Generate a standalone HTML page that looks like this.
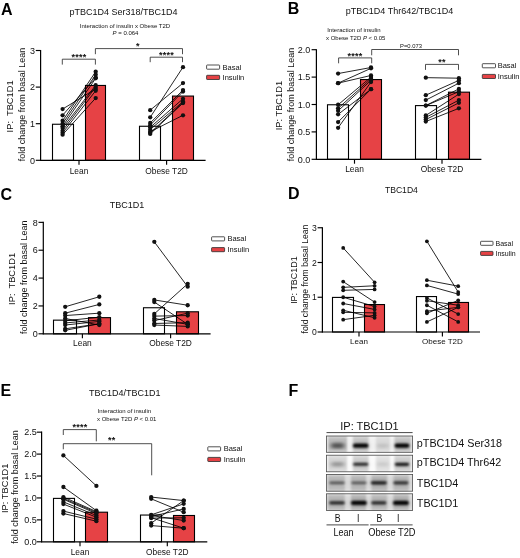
<!DOCTYPE html>
<html lang="en">
<head>
<meta charset="utf-8">
<title>Figure: TBC1D1 immunoprecipitation, TBC1D4 phosphorylation</title>
<style>
html,body{margin:0;padding:0;background:#fff;}
body{width:520px;height:558px;overflow:hidden;}
svg{display:block;font-family:"Liberation Sans",Arial,sans-serif;fill:#111;}
</style>
</head>
<body>
<svg width="520" height="558" viewBox="0 0 520 558">
<defs>
<filter id="bl1" x="-30%" y="-100%" width="160%" height="300%"><feGaussianBlur stdDeviation="1.1 0.85"/></filter>
<filter id="bl2" x="-30%" y="-100%" width="160%" height="300%"><feGaussianBlur stdDeviation="2.0 1.5"/></filter>
<filter id="bl3" x="-30%" y="-30%" width="160%" height="160%"><feGaussianBlur stdDeviation="1.0 0.1"/></filter>
<filter id="bl4" x="-10%" y="-200%" width="120%" height="500%"><feGaussianBlur stdDeviation="0.1 1.2"/></filter>
</defs>
<rect width="520" height="558" fill="#fff"/>
<g class="panel" id="panel-A">
<text x="0.9" y="14.5" font-size="16" font-weight="bold" fill="#000">A</text>
<text x="123.5" y="14.8" font-size="9" text-anchor="middle">pTBC1D4 Ser318/TBC1D4</text>
<rect x="52.5" y="124.25" width="21" height="36.05" fill="#fff" stroke="#000" stroke-width="1.1"/>
<rect x="85.5" y="85.45" width="20" height="74.85" fill="#E64245" stroke="#000" stroke-width="1.1"/>
<rect x="139.5" y="126.26" width="21" height="34.04" fill="#fff" stroke="#000" stroke-width="1.1"/>
<rect x="172.5" y="96.07" width="21" height="64.23" fill="#E64245" stroke="#000" stroke-width="1.1"/>
<line x1="40.6" y1="49.95" x2="40.6" y2="160.85" stroke="#000" stroke-width="1.2"/>
<line x1="40.1" y1="160.3" x2="205.6" y2="160.3" stroke="#000" stroke-width="1.15"/>
<line x1="35.8" y1="160.3" x2="40.6" y2="160.3" stroke="#000" stroke-width="1.15"/>
<text x="35" y="163.5" font-size="9" text-anchor="end">0</text>
<line x1="35.8" y1="123.7" x2="40.6" y2="123.7" stroke="#000" stroke-width="1.15"/>
<text x="35" y="126.9" font-size="9" text-anchor="end">1</text>
<line x1="35.8" y1="87.1" x2="40.6" y2="87.1" stroke="#000" stroke-width="1.15"/>
<text x="35" y="90.3" font-size="9" text-anchor="end">2</text>
<line x1="35.8" y1="50.5" x2="40.6" y2="50.5" stroke="#000" stroke-width="1.15"/>
<text x="35" y="53.7" font-size="9" text-anchor="end">3</text>
<line x1="79" y1="160.3" x2="79" y2="164.7" stroke="#000" stroke-width="1.15"/>
<text x="79" y="173.6" font-size="8.4" text-anchor="middle">Lean</text>
<line x1="166.6" y1="160.3" x2="166.6" y2="164.7" stroke="#000" stroke-width="1.15"/>
<text x="166.6" y="173.6" font-size="8.4" text-anchor="middle">Obese T2D</text>
<text x="13.5" y="106.4" font-size="9.31" text-anchor="middle" transform="rotate(-90 13.5 106.4)" style="white-space:pre">IP:  TBC1D1</text>
<text x="24.9" y="104.5" font-size="9" text-anchor="middle" transform="rotate(-90 24.9 104.5)">fold change from basal Lean</text>
<line x1="62.6" y1="109.06" x2="95.7" y2="88.93" stroke="#000" stroke-width="0.85"/>
<line x1="62.6" y1="115.28" x2="95.7" y2="77.58" stroke="#000" stroke-width="0.85"/>
<line x1="62.6" y1="120.77" x2="95.7" y2="71.73" stroke="#000" stroke-width="0.85"/>
<line x1="62.6" y1="123.7" x2="95.7" y2="74.66" stroke="#000" stroke-width="0.85"/>
<line x1="62.6" y1="126.26" x2="95.7" y2="78.32" stroke="#000" stroke-width="0.85"/>
<line x1="62.6" y1="128.09" x2="95.7" y2="85.27" stroke="#000" stroke-width="0.85"/>
<line x1="62.6" y1="130.65" x2="95.7" y2="87.1" stroke="#000" stroke-width="0.85"/>
<line x1="62.6" y1="132.85" x2="95.7" y2="90.76" stroke="#000" stroke-width="0.85"/>
<line x1="62.6" y1="134.68" x2="95.7" y2="98.08" stroke="#000" stroke-width="0.85"/>
<circle cx="62.6" cy="109.06" r="2.15" fill="#111"/>
<circle cx="95.7" cy="88.93" r="2.15" fill="#111"/>
<circle cx="62.6" cy="115.28" r="2.15" fill="#111"/>
<circle cx="95.7" cy="77.58" r="2.15" fill="#111"/>
<circle cx="62.6" cy="120.77" r="2.15" fill="#111"/>
<circle cx="95.7" cy="71.73" r="2.15" fill="#111"/>
<circle cx="62.6" cy="123.7" r="2.15" fill="#111"/>
<circle cx="95.7" cy="74.66" r="2.15" fill="#111"/>
<circle cx="62.6" cy="126.26" r="2.15" fill="#111"/>
<circle cx="95.7" cy="78.32" r="2.15" fill="#111"/>
<circle cx="62.6" cy="128.09" r="2.15" fill="#111"/>
<circle cx="95.7" cy="85.27" r="2.15" fill="#111"/>
<circle cx="62.6" cy="130.65" r="2.15" fill="#111"/>
<circle cx="95.7" cy="87.1" r="2.15" fill="#111"/>
<circle cx="62.6" cy="132.85" r="2.15" fill="#111"/>
<circle cx="95.7" cy="90.76" r="2.15" fill="#111"/>
<circle cx="62.6" cy="134.68" r="2.15" fill="#111"/>
<circle cx="95.7" cy="98.08" r="2.15" fill="#111"/>
<line x1="150.2" y1="110.16" x2="183" y2="83.07" stroke="#000" stroke-width="0.85"/>
<line x1="150.2" y1="117.3" x2="183" y2="67.15" stroke="#000" stroke-width="0.85"/>
<line x1="150.2" y1="122.97" x2="183" y2="90.03" stroke="#000" stroke-width="0.85"/>
<line x1="150.2" y1="125.16" x2="183" y2="91.49" stroke="#000" stroke-width="0.85"/>
<line x1="150.2" y1="127.36" x2="183" y2="98.81" stroke="#000" stroke-width="0.85"/>
<line x1="150.2" y1="129.56" x2="183" y2="101.56" stroke="#000" stroke-width="0.85"/>
<line x1="150.2" y1="131.75" x2="183" y2="115.28" stroke="#000" stroke-width="0.85"/>
<line x1="150.2" y1="132.85" x2="183" y2="102.47" stroke="#000" stroke-width="0.85"/>
<line x1="150.2" y1="133.95" x2="183" y2="103.02" stroke="#000" stroke-width="0.85"/>
<circle cx="150.2" cy="110.16" r="2.15" fill="#111"/>
<circle cx="183" cy="83.07" r="2.15" fill="#111"/>
<circle cx="150.2" cy="117.3" r="2.15" fill="#111"/>
<circle cx="183" cy="67.15" r="2.15" fill="#111"/>
<circle cx="150.2" cy="122.97" r="2.15" fill="#111"/>
<circle cx="183" cy="90.03" r="2.15" fill="#111"/>
<circle cx="150.2" cy="125.16" r="2.15" fill="#111"/>
<circle cx="183" cy="91.49" r="2.15" fill="#111"/>
<circle cx="150.2" cy="127.36" r="2.15" fill="#111"/>
<circle cx="183" cy="98.81" r="2.15" fill="#111"/>
<circle cx="150.2" cy="129.56" r="2.15" fill="#111"/>
<circle cx="183" cy="101.56" r="2.15" fill="#111"/>
<circle cx="150.2" cy="131.75" r="2.15" fill="#111"/>
<circle cx="183" cy="115.28" r="2.15" fill="#111"/>
<circle cx="150.2" cy="132.85" r="2.15" fill="#111"/>
<circle cx="183" cy="102.47" r="2.15" fill="#111"/>
<circle cx="150.2" cy="133.95" r="2.15" fill="#111"/>
<circle cx="183" cy="103.02" r="2.15" fill="#111"/>
<rect x="206.6" y="65" width="13" height="4.2" fill="#fff" stroke="#333" stroke-width="0.85" rx="0.6"/>
<rect x="206.6" y="75.3" width="13" height="4.2" fill="#E64245" stroke="#333" stroke-width="0.85" rx="0.6"/>
<text x="222.6" y="69.7" font-size="7.5">Basal</text>
<text x="222.6" y="80" font-size="7.5">Insulin</text>
<path d="M62.3 64.6V59.2H95.4V64.6" fill="none" stroke="#222" stroke-width="0.8"/>
<text x="79" y="59.8" font-size="9" text-anchor="middle" font-weight="bold" letter-spacing="0.3">****</text>
<path d="M150.2 62.2V57.2H182.5V62.2" fill="none" stroke="#222" stroke-width="0.8"/>
<text x="166.5" y="57.8" font-size="9" text-anchor="middle" font-weight="bold" letter-spacing="0.3">****</text>
<path d="M95.4 54.2V48.6H182.5V54.2" fill="none" stroke="#222" stroke-width="0.8"/>
<text x="138" y="49.3" font-size="9" text-anchor="middle" font-weight="bold" letter-spacing="0.3">*</text>
<text x="125" y="27.5" font-size="6" text-anchor="middle">Interaction of insulin x Obese T2D</text>
<text x="125.5" y="35" font-size="6" text-anchor="middle"><tspan font-style="italic">P</tspan> = 0.064</text>
</g>
<g class="panel" id="panel-B">
<text x="287.8" y="14" font-size="16" font-weight="bold" fill="#000">B</text>
<text x="399.5" y="14.2" font-size="9" text-anchor="middle">pTBC1D4 Thr642/TBC1D4</text>
<rect x="327.5" y="104.77" width="21" height="54.53" fill="#fff" stroke="#000" stroke-width="1.1"/>
<rect x="360.5" y="79.57" width="21" height="79.73" fill="#E64245" stroke="#000" stroke-width="1.1"/>
<rect x="415.5" y="105.6" width="21" height="53.7" fill="#fff" stroke="#000" stroke-width="1.1"/>
<rect x="448.5" y="92.17" width="21" height="67.13" fill="#E64245" stroke="#000" stroke-width="1.1"/>
<line x1="316.4" y1="49.15" x2="316.4" y2="159.85" stroke="#000" stroke-width="1.2"/>
<line x1="315.9" y1="159.3" x2="481.4" y2="159.3" stroke="#000" stroke-width="1.15"/>
<line x1="311.6" y1="159.3" x2="316.4" y2="159.3" stroke="#000" stroke-width="1.15"/>
<text x="310.3" y="162.5" font-size="9" text-anchor="end">0.0</text>
<line x1="311.6" y1="131.9" x2="316.4" y2="131.9" stroke="#000" stroke-width="1.15"/>
<text x="310.3" y="135.1" font-size="9" text-anchor="end">0.5</text>
<line x1="311.6" y1="104.5" x2="316.4" y2="104.5" stroke="#000" stroke-width="1.15"/>
<text x="310.3" y="107.7" font-size="9" text-anchor="end">1.0</text>
<line x1="311.6" y1="77.1" x2="316.4" y2="77.1" stroke="#000" stroke-width="1.15"/>
<text x="310.3" y="80.3" font-size="9" text-anchor="end">1.5</text>
<line x1="311.6" y1="49.7" x2="316.4" y2="49.7" stroke="#000" stroke-width="1.15"/>
<text x="310.3" y="52.9" font-size="9" text-anchor="end">2.0</text>
<line x1="354.5" y1="159.3" x2="354.5" y2="163.7" stroke="#000" stroke-width="1.15"/>
<text x="354.5" y="171.8" font-size="8.4" text-anchor="middle">Lean</text>
<line x1="442" y1="159.3" x2="442" y2="163.7" stroke="#000" stroke-width="1.15"/>
<text x="442" y="171.8" font-size="8.4" text-anchor="middle">Obese T2D</text>
<text x="282.4" y="105.6" font-size="9.31" text-anchor="middle" transform="rotate(-90 282.4 105.6)" style="white-space:pre">IP: TBC1D1</text>
<text x="293.7" y="104.5" font-size="9" text-anchor="middle" transform="rotate(-90 293.7 104.5)">fold change from basal Lean</text>
<line x1="338.1" y1="73.54" x2="371" y2="67.51" stroke="#000" stroke-width="0.85"/>
<line x1="338.1" y1="83.13" x2="371" y2="68.33" stroke="#000" stroke-width="0.85"/>
<line x1="338.1" y1="83.13" x2="371" y2="75.46" stroke="#000" stroke-width="0.85"/>
<line x1="338.1" y1="104.77" x2="371" y2="77.1" stroke="#000" stroke-width="0.85"/>
<line x1="338.1" y1="108.34" x2="371" y2="78.74" stroke="#000" stroke-width="0.85"/>
<line x1="338.1" y1="110.8" x2="371" y2="80.39" stroke="#000" stroke-width="0.85"/>
<line x1="338.1" y1="114.36" x2="371" y2="89.16" stroke="#000" stroke-width="0.85"/>
<line x1="338.1" y1="122.04" x2="371" y2="89.16" stroke="#000" stroke-width="0.85"/>
<line x1="338.1" y1="127.79" x2="371" y2="82.03" stroke="#000" stroke-width="0.85"/>
<circle cx="338.1" cy="73.54" r="2.15" fill="#111"/>
<circle cx="371" cy="67.51" r="2.15" fill="#111"/>
<circle cx="338.1" cy="83.13" r="2.15" fill="#111"/>
<circle cx="371" cy="68.33" r="2.15" fill="#111"/>
<circle cx="338.1" cy="83.13" r="2.15" fill="#111"/>
<circle cx="371" cy="75.46" r="2.15" fill="#111"/>
<circle cx="338.1" cy="104.77" r="2.15" fill="#111"/>
<circle cx="371" cy="77.1" r="2.15" fill="#111"/>
<circle cx="338.1" cy="108.34" r="2.15" fill="#111"/>
<circle cx="371" cy="78.74" r="2.15" fill="#111"/>
<circle cx="338.1" cy="110.8" r="2.15" fill="#111"/>
<circle cx="371" cy="80.39" r="2.15" fill="#111"/>
<circle cx="338.1" cy="114.36" r="2.15" fill="#111"/>
<circle cx="371" cy="89.16" r="2.15" fill="#111"/>
<circle cx="338.1" cy="122.04" r="2.15" fill="#111"/>
<circle cx="371" cy="89.16" r="2.15" fill="#111"/>
<circle cx="338.1" cy="127.79" r="2.15" fill="#111"/>
<circle cx="371" cy="82.03" r="2.15" fill="#111"/>
<line x1="425.8" y1="77.65" x2="458.9" y2="78.2" stroke="#000" stroke-width="0.85"/>
<line x1="425.8" y1="95.18" x2="458.9" y2="80.39" stroke="#000" stroke-width="0.85"/>
<line x1="425.8" y1="100.12" x2="458.9" y2="83.13" stroke="#000" stroke-width="0.85"/>
<line x1="425.8" y1="105.6" x2="458.9" y2="88.88" stroke="#000" stroke-width="0.85"/>
<line x1="425.8" y1="105.6" x2="458.9" y2="91.62" stroke="#000" stroke-width="0.85"/>
<line x1="425.8" y1="115.46" x2="458.9" y2="94.09" stroke="#000" stroke-width="0.85"/>
<line x1="425.8" y1="117.38" x2="458.9" y2="100.12" stroke="#000" stroke-width="0.85"/>
<line x1="425.8" y1="119.57" x2="458.9" y2="102.86" stroke="#000" stroke-width="0.85"/>
<line x1="425.8" y1="121.49" x2="458.9" y2="108.34" stroke="#000" stroke-width="0.85"/>
<circle cx="425.8" cy="77.65" r="2.15" fill="#111"/>
<circle cx="458.9" cy="78.2" r="2.15" fill="#111"/>
<circle cx="425.8" cy="95.18" r="2.15" fill="#111"/>
<circle cx="458.9" cy="80.39" r="2.15" fill="#111"/>
<circle cx="425.8" cy="100.12" r="2.15" fill="#111"/>
<circle cx="458.9" cy="83.13" r="2.15" fill="#111"/>
<circle cx="425.8" cy="105.6" r="2.15" fill="#111"/>
<circle cx="458.9" cy="88.88" r="2.15" fill="#111"/>
<circle cx="425.8" cy="105.6" r="2.15" fill="#111"/>
<circle cx="458.9" cy="91.62" r="2.15" fill="#111"/>
<circle cx="425.8" cy="115.46" r="2.15" fill="#111"/>
<circle cx="458.9" cy="94.09" r="2.15" fill="#111"/>
<circle cx="425.8" cy="117.38" r="2.15" fill="#111"/>
<circle cx="458.9" cy="100.12" r="2.15" fill="#111"/>
<circle cx="425.8" cy="119.57" r="2.15" fill="#111"/>
<circle cx="458.9" cy="102.86" r="2.15" fill="#111"/>
<circle cx="425.8" cy="121.49" r="2.15" fill="#111"/>
<circle cx="458.9" cy="108.34" r="2.15" fill="#111"/>
<rect x="482.3" y="63.7" width="13.2" height="4.1" fill="#fff" stroke="#333" stroke-width="0.85" rx="0.6"/>
<rect x="482.3" y="74.4" width="13.2" height="4.1" fill="#E64245" stroke="#333" stroke-width="0.85" rx="0.6"/>
<text x="497.7" y="68.3" font-size="7.5">Basal</text>
<text x="497.7" y="79" font-size="7.5">Insulin</text>
<path d="M338.6 63.3V57.9H371.7V63.3" fill="none" stroke="#222" stroke-width="0.8"/>
<text x="355" y="58.5" font-size="9" text-anchor="middle" font-weight="bold" letter-spacing="0.3">****</text>
<path d="M425.5 69.9V64.4H458.5V69.9" fill="none" stroke="#222" stroke-width="0.8"/>
<text x="442" y="65.1" font-size="9" text-anchor="middle" font-weight="bold" letter-spacing="0.3">**</text>
<path d="M371.7 55.3V49.5H458.5V55.3" fill="none" stroke="#222" stroke-width="0.8"/>
<text x="411" y="47.9" font-size="5.8" text-anchor="middle">P=0.073</text>
<text x="327.2" y="31.8" font-size="6">Interaction of insulin</text>
<text x="326" y="39.8" font-size="6">x Obese T2D <tspan font-style="italic">P</tspan> &lt; 0.05</text>
</g>
<g class="panel" id="panel-C">
<text x="0.4" y="199.9" font-size="16" font-weight="bold" fill="#000">C</text>
<text x="127" y="207.5" font-size="9" text-anchor="middle">TBC1D1</text>
<rect x="53.5" y="320.15" width="23" height="13.65" fill="#fff" stroke="#000" stroke-width="1.1"/>
<rect x="88.5" y="317.64" width="22" height="16.16" fill="#E64245" stroke="#000" stroke-width="1.1"/>
<rect x="143.5" y="307.75" width="21" height="26.05" fill="#fff" stroke="#000" stroke-width="1.1"/>
<rect x="176.5" y="311.79" width="22" height="22.01" fill="#E64245" stroke="#000" stroke-width="1.1"/>
<line x1="43.3" y1="221.81" x2="43.3" y2="334.35" stroke="#000" stroke-width="1.2"/>
<line x1="42.8" y1="333.8" x2="210.6" y2="333.8" stroke="#000" stroke-width="1.15"/>
<line x1="38.5" y1="333.8" x2="43.3" y2="333.8" stroke="#000" stroke-width="1.15"/>
<text x="37.7" y="337" font-size="9" text-anchor="end">0</text>
<line x1="38.5" y1="305.94" x2="43.3" y2="305.94" stroke="#000" stroke-width="1.15"/>
<text x="37.7" y="309.14" font-size="9" text-anchor="end">2</text>
<line x1="38.5" y1="278.08" x2="43.3" y2="278.08" stroke="#000" stroke-width="1.15"/>
<text x="37.7" y="281.28" font-size="9" text-anchor="end">4</text>
<line x1="38.5" y1="250.22" x2="43.3" y2="250.22" stroke="#000" stroke-width="1.15"/>
<text x="37.7" y="253.42" font-size="9" text-anchor="end">6</text>
<line x1="38.5" y1="222.36" x2="43.3" y2="222.36" stroke="#000" stroke-width="1.15"/>
<text x="37.7" y="225.56" font-size="9" text-anchor="end">8</text>
<line x1="82.4" y1="333.8" x2="82.4" y2="338.2" stroke="#000" stroke-width="1.15"/>
<text x="82.4" y="346.3" font-size="8.4" text-anchor="middle">Lean</text>
<line x1="170.6" y1="333.8" x2="170.6" y2="338.2" stroke="#000" stroke-width="1.15"/>
<text x="170.6" y="346.3" font-size="8.4" text-anchor="middle">Obese T2D</text>
<text x="15.5" y="278.9" font-size="9.31" text-anchor="middle" transform="rotate(-90 15.5 278.9)" style="white-space:pre">IP:  TBC1D1</text>
<text x="27.5" y="277.2" font-size="9" text-anchor="middle" transform="rotate(-90 27.5 277.2)">fold change from basal Lean</text>
<line x1="65.2" y1="306.78" x2="99.3" y2="296.75" stroke="#000" stroke-width="0.85"/>
<line x1="65.2" y1="313.18" x2="99.3" y2="304.41" stroke="#000" stroke-width="0.85"/>
<line x1="65.2" y1="315.55" x2="99.3" y2="313.18" stroke="#000" stroke-width="0.85"/>
<line x1="65.2" y1="318.48" x2="99.3" y2="325.02" stroke="#000" stroke-width="0.85"/>
<line x1="65.2" y1="320.85" x2="99.3" y2="317.08" stroke="#000" stroke-width="0.85"/>
<line x1="65.2" y1="322.93" x2="99.3" y2="320.01" stroke="#000" stroke-width="0.85"/>
<line x1="65.2" y1="325.02" x2="99.3" y2="321.4" stroke="#000" stroke-width="0.85"/>
<line x1="65.2" y1="328.79" x2="99.3" y2="323.77" stroke="#000" stroke-width="0.85"/>
<line x1="65.2" y1="330.32" x2="99.3" y2="323.77" stroke="#000" stroke-width="0.85"/>
<circle cx="65.2" cy="306.78" r="2.15" fill="#111"/>
<circle cx="99.3" cy="296.75" r="2.15" fill="#111"/>
<circle cx="65.2" cy="313.18" r="2.15" fill="#111"/>
<circle cx="99.3" cy="304.41" r="2.15" fill="#111"/>
<circle cx="65.2" cy="315.55" r="2.15" fill="#111"/>
<circle cx="99.3" cy="313.18" r="2.15" fill="#111"/>
<circle cx="65.2" cy="318.48" r="2.15" fill="#111"/>
<circle cx="99.3" cy="325.02" r="2.15" fill="#111"/>
<circle cx="65.2" cy="320.85" r="2.15" fill="#111"/>
<circle cx="99.3" cy="317.08" r="2.15" fill="#111"/>
<circle cx="65.2" cy="322.93" r="2.15" fill="#111"/>
<circle cx="99.3" cy="320.01" r="2.15" fill="#111"/>
<circle cx="65.2" cy="325.02" r="2.15" fill="#111"/>
<circle cx="99.3" cy="321.4" r="2.15" fill="#111"/>
<circle cx="65.2" cy="328.79" r="2.15" fill="#111"/>
<circle cx="99.3" cy="323.77" r="2.15" fill="#111"/>
<circle cx="65.2" cy="330.32" r="2.15" fill="#111"/>
<circle cx="99.3" cy="323.77" r="2.15" fill="#111"/>
<line x1="154.3" y1="241.86" x2="187.7" y2="286.72" stroke="#000" stroke-width="0.85"/>
<line x1="154.3" y1="299.95" x2="187.7" y2="305.24" stroke="#000" stroke-width="0.85"/>
<line x1="154.3" y1="302.04" x2="187.7" y2="324.33" stroke="#000" stroke-width="0.85"/>
<line x1="154.3" y1="313.88" x2="187.7" y2="283.79" stroke="#000" stroke-width="0.85"/>
<line x1="154.3" y1="316.11" x2="187.7" y2="315.55" stroke="#000" stroke-width="0.85"/>
<line x1="154.3" y1="320.57" x2="187.7" y2="313.18" stroke="#000" stroke-width="0.85"/>
<line x1="154.3" y1="323.49" x2="187.7" y2="322.66" stroke="#000" stroke-width="0.85"/>
<line x1="154.3" y1="325.02" x2="187.7" y2="326.42" stroke="#000" stroke-width="0.85"/>
<line x1="154.3" y1="318.48" x2="187.7" y2="324.33" stroke="#000" stroke-width="0.85"/>
<circle cx="154.3" cy="241.86" r="2.15" fill="#111"/>
<circle cx="187.7" cy="286.72" r="2.15" fill="#111"/>
<circle cx="154.3" cy="299.95" r="2.15" fill="#111"/>
<circle cx="187.7" cy="305.24" r="2.15" fill="#111"/>
<circle cx="154.3" cy="302.04" r="2.15" fill="#111"/>
<circle cx="187.7" cy="324.33" r="2.15" fill="#111"/>
<circle cx="154.3" cy="313.88" r="2.15" fill="#111"/>
<circle cx="187.7" cy="283.79" r="2.15" fill="#111"/>
<circle cx="154.3" cy="316.11" r="2.15" fill="#111"/>
<circle cx="187.7" cy="315.55" r="2.15" fill="#111"/>
<circle cx="154.3" cy="320.57" r="2.15" fill="#111"/>
<circle cx="187.7" cy="313.18" r="2.15" fill="#111"/>
<circle cx="154.3" cy="323.49" r="2.15" fill="#111"/>
<circle cx="187.7" cy="322.66" r="2.15" fill="#111"/>
<circle cx="154.3" cy="325.02" r="2.15" fill="#111"/>
<circle cx="187.7" cy="326.42" r="2.15" fill="#111"/>
<circle cx="154.3" cy="318.48" r="2.15" fill="#111"/>
<circle cx="187.7" cy="324.33" r="2.15" fill="#111"/>
<rect x="211.6" y="236.8" width="13" height="4.1" fill="#fff" stroke="#333" stroke-width="0.85" rx="0.6"/>
<rect x="211.6" y="247.6" width="13" height="4.1" fill="#E64245" stroke="#333" stroke-width="0.85" rx="0.6"/>
<text x="227.4" y="241.4" font-size="7.5">Basal</text>
<text x="227.4" y="252.2" font-size="7.5">Insulin</text>
</g>
<g class="panel" id="panel-D">
<text x="287.9" y="198.8" font-size="16" font-weight="bold" fill="#000">D</text>
<text x="401.4" y="193.2" font-size="8.6" text-anchor="middle">TBC1D4</text>
<rect x="332.5" y="297.42" width="21" height="34.58" fill="#fff" stroke="#000" stroke-width="1.1"/>
<rect x="364.5" y="304.55" width="20" height="27.45" fill="#E64245" stroke="#000" stroke-width="1.1"/>
<rect x="416.5" y="296.56" width="20" height="35.45" fill="#fff" stroke="#000" stroke-width="1.1"/>
<rect x="448.5" y="302.46" width="20" height="29.54" fill="#E64245" stroke="#000" stroke-width="1.1"/>
<line x1="322.4" y1="227.2" x2="322.4" y2="332.55" stroke="#000" stroke-width="1.2"/>
<line x1="321.9" y1="332" x2="480" y2="332" stroke="#000" stroke-width="1.15"/>
<line x1="317.6" y1="332" x2="322.4" y2="332" stroke="#000" stroke-width="1.15"/>
<text x="316.8" y="335.2" font-size="8.6" text-anchor="end">0</text>
<line x1="317.6" y1="297.25" x2="322.4" y2="297.25" stroke="#000" stroke-width="1.15"/>
<text x="316.8" y="300.45" font-size="8.6" text-anchor="end">1</text>
<line x1="317.6" y1="262.5" x2="322.4" y2="262.5" stroke="#000" stroke-width="1.15"/>
<text x="316.8" y="265.7" font-size="8.6" text-anchor="end">2</text>
<line x1="317.6" y1="227.75" x2="322.4" y2="227.75" stroke="#000" stroke-width="1.15"/>
<text x="316.8" y="230.95" font-size="8.6" text-anchor="end">3</text>
<line x1="359" y1="332" x2="359" y2="336.4" stroke="#000" stroke-width="1.15"/>
<text x="359" y="344.1" font-size="8" text-anchor="middle">Lean</text>
<line x1="442.4" y1="332" x2="442.4" y2="336.4" stroke="#000" stroke-width="1.15"/>
<text x="442.4" y="344.1" font-size="8" text-anchor="middle">Obese T2D</text>
<text x="297" y="280.1" font-size="8.95" text-anchor="middle" transform="rotate(-90 297 280.1)" style="white-space:pre">IP: TBC1D1</text>
<text x="307.5" y="279" font-size="8.65" text-anchor="middle" transform="rotate(-90 307.5 279)">fold change from basal Lean</text>
<line x1="343.2" y1="247.91" x2="374.6" y2="282.31" stroke="#000" stroke-width="0.85"/>
<line x1="343.2" y1="281.61" x2="374.6" y2="302.12" stroke="#000" stroke-width="0.85"/>
<line x1="343.2" y1="287.35" x2="374.6" y2="285.78" stroke="#000" stroke-width="0.85"/>
<line x1="343.2" y1="290.3" x2="374.6" y2="289.43" stroke="#000" stroke-width="0.85"/>
<line x1="343.2" y1="297.25" x2="374.6" y2="306.46" stroke="#000" stroke-width="0.85"/>
<line x1="343.2" y1="303.5" x2="374.6" y2="309.41" stroke="#000" stroke-width="0.85"/>
<line x1="343.2" y1="310.28" x2="374.6" y2="317.75" stroke="#000" stroke-width="0.85"/>
<line x1="343.2" y1="312.33" x2="374.6" y2="312.89" stroke="#000" stroke-width="0.85"/>
<line x1="343.2" y1="319.66" x2="374.6" y2="315.32" stroke="#000" stroke-width="0.85"/>
<circle cx="343.2" cy="247.91" r="1.9" fill="#111"/>
<circle cx="374.6" cy="282.31" r="1.9" fill="#111"/>
<circle cx="343.2" cy="281.61" r="1.9" fill="#111"/>
<circle cx="374.6" cy="302.12" r="1.9" fill="#111"/>
<circle cx="343.2" cy="287.35" r="1.9" fill="#111"/>
<circle cx="374.6" cy="285.78" r="1.9" fill="#111"/>
<circle cx="343.2" cy="290.3" r="1.9" fill="#111"/>
<circle cx="374.6" cy="289.43" r="1.9" fill="#111"/>
<circle cx="343.2" cy="297.25" r="1.9" fill="#111"/>
<circle cx="374.6" cy="306.46" r="1.9" fill="#111"/>
<circle cx="343.2" cy="303.5" r="1.9" fill="#111"/>
<circle cx="374.6" cy="309.41" r="1.9" fill="#111"/>
<circle cx="343.2" cy="310.28" r="1.9" fill="#111"/>
<circle cx="374.6" cy="317.75" r="1.9" fill="#111"/>
<circle cx="343.2" cy="312.33" r="1.9" fill="#111"/>
<circle cx="374.6" cy="312.89" r="1.9" fill="#111"/>
<circle cx="343.2" cy="319.66" r="1.9" fill="#111"/>
<circle cx="374.6" cy="315.32" r="1.9" fill="#111"/>
<line x1="426.9" y1="241.3" x2="458.2" y2="292.04" stroke="#000" stroke-width="0.85"/>
<line x1="426.9" y1="280.22" x2="458.2" y2="286.13" stroke="#000" stroke-width="0.85"/>
<line x1="426.9" y1="285.44" x2="458.2" y2="294.12" stroke="#000" stroke-width="0.85"/>
<line x1="426.9" y1="297.94" x2="458.2" y2="314.1" stroke="#000" stroke-width="0.85"/>
<line x1="426.9" y1="300.73" x2="458.2" y2="305.24" stroke="#000" stroke-width="0.85"/>
<line x1="426.9" y1="305.24" x2="458.2" y2="321.92" stroke="#000" stroke-width="0.85"/>
<line x1="426.9" y1="311.15" x2="458.2" y2="307.33" stroke="#000" stroke-width="0.85"/>
<line x1="426.9" y1="313.24" x2="458.2" y2="300.38" stroke="#000" stroke-width="0.85"/>
<line x1="426.9" y1="321.92" x2="458.2" y2="307.33" stroke="#000" stroke-width="0.85"/>
<circle cx="426.9" cy="241.3" r="1.9" fill="#111"/>
<circle cx="458.2" cy="292.04" r="1.9" fill="#111"/>
<circle cx="426.9" cy="280.22" r="1.9" fill="#111"/>
<circle cx="458.2" cy="286.13" r="1.9" fill="#111"/>
<circle cx="426.9" cy="285.44" r="1.9" fill="#111"/>
<circle cx="458.2" cy="294.12" r="1.9" fill="#111"/>
<circle cx="426.9" cy="297.94" r="1.9" fill="#111"/>
<circle cx="458.2" cy="314.1" r="1.9" fill="#111"/>
<circle cx="426.9" cy="300.73" r="1.9" fill="#111"/>
<circle cx="458.2" cy="305.24" r="1.9" fill="#111"/>
<circle cx="426.9" cy="305.24" r="1.9" fill="#111"/>
<circle cx="458.2" cy="321.92" r="1.9" fill="#111"/>
<circle cx="426.9" cy="311.15" r="1.9" fill="#111"/>
<circle cx="458.2" cy="307.33" r="1.9" fill="#111"/>
<circle cx="426.9" cy="313.24" r="1.9" fill="#111"/>
<circle cx="458.2" cy="300.38" r="1.9" fill="#111"/>
<circle cx="426.9" cy="321.92" r="1.9" fill="#111"/>
<circle cx="458.2" cy="307.33" r="1.9" fill="#111"/>
<rect x="480.6" y="241.3" width="12.4" height="4.0" fill="#fff" stroke="#333" stroke-width="0.85" rx="0.6"/>
<rect x="480.6" y="251.4" width="12.4" height="4.0" fill="#E64245" stroke="#333" stroke-width="0.85" rx="0.6"/>
<text x="495.5" y="246.2" font-size="7">Basal</text>
<text x="495.5" y="256.3" font-size="7">Insulin</text>
</g>
<g class="panel" id="panel-E">
<text x="0.5" y="395.6" font-size="16" font-weight="bold" fill="#000">E</text>
<text x="124.8" y="396.3" font-size="9" text-anchor="middle">TBC1D4/TBC1D1</text>
<rect x="53.5" y="498.39" width="21" height="43.41" fill="#fff" stroke="#000" stroke-width="1.1"/>
<rect x="85.5" y="512.2" width="22" height="29.6" fill="#E64245" stroke="#000" stroke-width="1.1"/>
<rect x="140.5" y="515.05" width="21" height="26.75" fill="#fff" stroke="#000" stroke-width="1.1"/>
<rect x="173.5" y="515.49" width="21" height="26.31" fill="#E64245" stroke="#000" stroke-width="1.1"/>
<line x1="41.6" y1="431.62" x2="41.6" y2="542.35" stroke="#000" stroke-width="1.2"/>
<line x1="41.1" y1="541.8" x2="207.3" y2="541.8" stroke="#000" stroke-width="1.15"/>
<line x1="36.8" y1="541.8" x2="41.6" y2="541.8" stroke="#000" stroke-width="1.15"/>
<text x="36.7" y="545" font-size="9" text-anchor="end">0.0</text>
<line x1="36.8" y1="519.88" x2="41.6" y2="519.88" stroke="#000" stroke-width="1.15"/>
<text x="36.7" y="523.08" font-size="9" text-anchor="end">0.5</text>
<line x1="36.8" y1="497.95" x2="41.6" y2="497.95" stroke="#000" stroke-width="1.15"/>
<text x="36.7" y="501.15" font-size="9" text-anchor="end">1.0</text>
<line x1="36.8" y1="476.02" x2="41.6" y2="476.02" stroke="#000" stroke-width="1.15"/>
<text x="36.7" y="479.22" font-size="9" text-anchor="end">1.5</text>
<line x1="36.8" y1="454.1" x2="41.6" y2="454.1" stroke="#000" stroke-width="1.15"/>
<text x="36.7" y="457.3" font-size="9" text-anchor="end">2.0</text>
<line x1="36.8" y1="432.17" x2="41.6" y2="432.17" stroke="#000" stroke-width="1.15"/>
<text x="36.7" y="435.37" font-size="9" text-anchor="end">2.5</text>
<line x1="80" y1="541.8" x2="80" y2="546.2" stroke="#000" stroke-width="1.15"/>
<text x="80" y="554.7" font-size="8.4" text-anchor="middle">Lean</text>
<line x1="167.3" y1="541.8" x2="167.3" y2="546.2" stroke="#000" stroke-width="1.15"/>
<text x="167.3" y="554.7" font-size="8.4" text-anchor="middle">Obese T2D</text>
<text x="7.8" y="488.3" font-size="9.31" text-anchor="middle" transform="rotate(-90 7.8 488.3)" style="white-space:pre">IP: TBC1D1</text>
<text x="18.2" y="487" font-size="9" text-anchor="middle" transform="rotate(-90 18.2 487)">fold change from basal Lean</text>
<line x1="63.4" y1="455.42" x2="96.4" y2="485.89" stroke="#000" stroke-width="0.85"/>
<line x1="63.4" y1="486.99" x2="96.4" y2="510.67" stroke="#000" stroke-width="0.85"/>
<line x1="63.4" y1="497.07" x2="96.4" y2="511.54" stroke="#000" stroke-width="0.85"/>
<line x1="63.4" y1="499.27" x2="96.4" y2="513.52" stroke="#000" stroke-width="0.85"/>
<line x1="63.4" y1="501.9" x2="96.4" y2="515.49" stroke="#000" stroke-width="0.85"/>
<line x1="63.4" y1="504.09" x2="96.4" y2="517.24" stroke="#000" stroke-width="0.85"/>
<line x1="63.4" y1="511.1" x2="96.4" y2="519.17" stroke="#000" stroke-width="0.85"/>
<line x1="63.4" y1="513.52" x2="96.4" y2="521.19" stroke="#000" stroke-width="0.85"/>
<line x1="63.4" y1="498.39" x2="96.4" y2="512.42" stroke="#000" stroke-width="0.85"/>
<circle cx="63.4" cy="455.42" r="2.15" fill="#111"/>
<circle cx="96.4" cy="485.89" r="2.15" fill="#111"/>
<circle cx="63.4" cy="486.99" r="2.15" fill="#111"/>
<circle cx="96.4" cy="510.67" r="2.15" fill="#111"/>
<circle cx="63.4" cy="497.07" r="2.15" fill="#111"/>
<circle cx="96.4" cy="511.54" r="2.15" fill="#111"/>
<circle cx="63.4" cy="499.27" r="2.15" fill="#111"/>
<circle cx="96.4" cy="513.52" r="2.15" fill="#111"/>
<circle cx="63.4" cy="501.9" r="2.15" fill="#111"/>
<circle cx="96.4" cy="515.49" r="2.15" fill="#111"/>
<circle cx="63.4" cy="504.09" r="2.15" fill="#111"/>
<circle cx="96.4" cy="517.24" r="2.15" fill="#111"/>
<circle cx="63.4" cy="511.1" r="2.15" fill="#111"/>
<circle cx="96.4" cy="519.17" r="2.15" fill="#111"/>
<circle cx="63.4" cy="513.52" r="2.15" fill="#111"/>
<circle cx="96.4" cy="521.19" r="2.15" fill="#111"/>
<circle cx="63.4" cy="498.39" r="2.15" fill="#111"/>
<circle cx="96.4" cy="512.42" r="2.15" fill="#111"/>
<line x1="151.2" y1="497.07" x2="183.7" y2="500.58" stroke="#000" stroke-width="0.85"/>
<line x1="151.2" y1="498.83" x2="183.7" y2="512.2" stroke="#000" stroke-width="0.85"/>
<line x1="151.2" y1="514.83" x2="183.7" y2="503.87" stroke="#000" stroke-width="0.85"/>
<line x1="151.2" y1="516.5" x2="183.7" y2="508.91" stroke="#000" stroke-width="0.85"/>
<line x1="151.2" y1="518.12" x2="183.7" y2="517.81" stroke="#000" stroke-width="0.85"/>
<line x1="151.2" y1="523.16" x2="183.7" y2="500.58" stroke="#000" stroke-width="0.85"/>
<line x1="151.2" y1="525.58" x2="183.7" y2="528.21" stroke="#000" stroke-width="0.85"/>
<line x1="151.2" y1="515.49" x2="183.7" y2="520.49" stroke="#000" stroke-width="0.85"/>
<line x1="151.2" y1="517.68" x2="183.7" y2="528.21" stroke="#000" stroke-width="0.85"/>
<circle cx="151.2" cy="497.07" r="2.15" fill="#111"/>
<circle cx="183.7" cy="500.58" r="2.15" fill="#111"/>
<circle cx="151.2" cy="498.83" r="2.15" fill="#111"/>
<circle cx="183.7" cy="512.2" r="2.15" fill="#111"/>
<circle cx="151.2" cy="514.83" r="2.15" fill="#111"/>
<circle cx="183.7" cy="503.87" r="2.15" fill="#111"/>
<circle cx="151.2" cy="516.5" r="2.15" fill="#111"/>
<circle cx="183.7" cy="508.91" r="2.15" fill="#111"/>
<circle cx="151.2" cy="518.12" r="2.15" fill="#111"/>
<circle cx="183.7" cy="517.81" r="2.15" fill="#111"/>
<circle cx="151.2" cy="523.16" r="2.15" fill="#111"/>
<circle cx="183.7" cy="500.58" r="2.15" fill="#111"/>
<circle cx="151.2" cy="525.58" r="2.15" fill="#111"/>
<circle cx="183.7" cy="528.21" r="2.15" fill="#111"/>
<circle cx="151.2" cy="515.49" r="2.15" fill="#111"/>
<circle cx="183.7" cy="520.49" r="2.15" fill="#111"/>
<circle cx="151.2" cy="517.68" r="2.15" fill="#111"/>
<circle cx="183.7" cy="528.21" r="2.15" fill="#111"/>
<rect x="207.8" y="446.8" width="12.8" height="4.1" fill="#fff" stroke="#333" stroke-width="0.85" rx="0.6"/>
<rect x="207.8" y="457.4" width="12.8" height="4.1" fill="#E64245" stroke="#333" stroke-width="0.85" rx="0.6"/>
<text x="223.7" y="451.4" font-size="7.5">Basal</text>
<text x="223.7" y="462" font-size="7.5">Insulin</text>
<path d="M63.3 435V429.6H96.3V441.3" fill="none" stroke="#222" stroke-width="0.8"/>
<text x="80" y="430" font-size="9" text-anchor="middle" font-weight="bold" letter-spacing="0.3">****</text>
<path d="M63.3 449.3V443.7H151.7V475.3" fill="none" stroke="#222" stroke-width="0.8"/>
<text x="111.7" y="443.2" font-size="9" text-anchor="middle" font-weight="bold" letter-spacing="0.3">**</text>
<text x="97.7" y="412.7" font-size="6">Interaction of insulin</text>
<text x="97" y="420.7" font-size="6">x Obese T2D <tspan font-style="italic">P</tspan> &lt; 0.01</text>
</g>
<g class="panel" id="panel-F">
<text x="288.6" y="395.8" font-size="16" font-weight="bold" fill="#000">F</text>
<text x="369.5" y="429.6" font-size="11" text-anchor="middle">IP: TBC1D1</text>
<line x1="326.5" y1="432.6" x2="412.6" y2="432.6" stroke="#333" stroke-width="0.9"/>
<svg x="326.5" y="436" width="86.1" height="16.3" viewBox="326.5 436 86.1 16.3" overflow="hidden">
<rect x="326.5" y="436" width="86.1" height="16.3" fill="#f1f1f1"/>
<rect x="327.9" y="432" width="19.1" height="24.3" fill="#bcbcbc" filter="url(#bl3)"/>
<rect x="352.9" y="432" width="15.7" height="24.3" fill="#c6c6c6" filter="url(#bl3)"/>
<rect x="375.9" y="432" width="14" height="24.3" fill="#dadada" filter="url(#bl3)"/>
<rect x="394.4" y="432" width="16.8" height="24.3" fill="#c4c4c4" filter="url(#bl3)"/>
<rect x="331.1" y="442.35" width="13" height="6.6" rx="2" fill="#000" fill-opacity="0.14" filter="url(#bl2)"/>
<rect x="331.1" y="443.35" width="13" height="4.6" rx="2.3" fill="#000" fill-opacity="0.5" filter="url(#bl2)"/>
<rect x="353.1" y="442.75" width="15.2" height="5.8" rx="2" fill="#000" fill-opacity="0.28" filter="url(#bl2)"/>
<rect x="353.1" y="443.75" width="15.2" height="3.8" rx="1.9" fill="#000" fill-opacity="1.0" filter="url(#bl1)"/>
<rect x="376.8" y="443.65" width="12" height="4" rx="2" fill="#000" fill-opacity="0.12" filter="url(#bl2)"/>
<rect x="394.8" y="442.85" width="14.4" height="5.6" rx="2" fill="#000" fill-opacity="0.28" filter="url(#bl2)"/>
<rect x="394.8" y="443.85" width="14.4" height="3.6" rx="1.8" fill="#000" fill-opacity="1.0" filter="url(#bl1)"/>
<rect x="326.5" y="434.5" width="86.1" height="3" fill="#fff" fill-opacity="0.45" filter="url(#bl4)"/>
<rect x="326.5" y="450.8" width="86.1" height="3" fill="#fff" fill-opacity="0.3" filter="url(#bl4)"/>
</svg>
<rect x="326.5" y="436" width="86.1" height="16.3" fill="none" stroke="#4a4a4a" stroke-width="0.8"/>
<svg x="326.5" y="455.2" width="86.1" height="16.6" viewBox="326.5 455.2 86.1 16.6" overflow="hidden">
<rect x="326.5" y="455.2" width="86.1" height="16.6" fill="#fafafa"/>
<rect x="327.9" y="451.2" width="19.1" height="24.6" fill="#d6d6d6" filter="url(#bl3)"/>
<rect x="352.9" y="451.2" width="15.7" height="24.6" fill="#cfcfcf" filter="url(#bl3)"/>
<rect x="375.9" y="451.2" width="14" height="24.6" fill="#e0e0e0" filter="url(#bl3)"/>
<rect x="394.4" y="451.2" width="16.8" height="24.6" fill="#cfcfcf" filter="url(#bl3)"/>
<rect x="331.1" y="462" width="13" height="4.6" rx="2.3" fill="#000" fill-opacity="0.3" filter="url(#bl2)"/>
<rect x="353.3" y="462" width="14.8" height="4.6" rx="2" fill="#000" fill-opacity="0.22" filter="url(#bl2)"/>
<rect x="353.3" y="463" width="14.8" height="2.6" rx="1.3" fill="#000" fill-opacity="0.8" filter="url(#bl1)"/>
<rect x="376.8" y="462.3" width="12" height="4" rx="2" fill="#000" fill-opacity="0.1" filter="url(#bl2)"/>
<rect x="395" y="461.9" width="14" height="4.8" rx="2" fill="#000" fill-opacity="0.25" filter="url(#bl2)"/>
<rect x="395" y="462.9" width="14" height="2.8" rx="1.4" fill="#000" fill-opacity="0.88" filter="url(#bl1)"/>
<rect x="326.5" y="453.7" width="86.1" height="3" fill="#fff" fill-opacity="0.45" filter="url(#bl4)"/>
<rect x="326.5" y="470.3" width="86.1" height="3" fill="#fff" fill-opacity="0.3" filter="url(#bl4)"/>
</svg>
<rect x="326.5" y="455.2" width="86.1" height="16.6" fill="none" stroke="#4a4a4a" stroke-width="0.8"/>
<svg x="326.5" y="474.4" width="86.1" height="16.8" viewBox="326.5 474.4 86.1 16.8" overflow="hidden">
<rect x="326.5" y="474.4" width="86.1" height="16.8" fill="#dadada"/>
<rect x="327.9" y="470.4" width="16.9" height="24.8" fill="#b9b9b9" filter="url(#bl3)"/>
<rect x="351" y="470.4" width="15" height="24.8" fill="#b7b7b7" filter="url(#bl3)"/>
<rect x="371.4" y="470.4" width="15.8" height="24.8" fill="#b4b4b4" filter="url(#bl3)"/>
<rect x="393.4" y="470.4" width="15.4" height="24.8" fill="#b7b7b7" filter="url(#bl3)"/>
<rect x="329.4" y="480.7" width="15.2" height="4.2" rx="2" fill="#000" fill-opacity="0.14" filter="url(#bl2)"/>
<rect x="329.4" y="481.7" width="15.2" height="2.2" rx="1.1" fill="#000" fill-opacity="0.5" filter="url(#bl1)"/>
<rect x="351.3" y="480.7" width="15.2" height="4.2" rx="2" fill="#000" fill-opacity="0.13" filter="url(#bl2)"/>
<rect x="351.3" y="481.7" width="15.2" height="2.2" rx="1.1" fill="#000" fill-opacity="0.48" filter="url(#bl1)"/>
<rect x="371" y="480.4" width="15.6" height="4.8" rx="2" fill="#000" fill-opacity="0.24" filter="url(#bl2)"/>
<rect x="371" y="481.4" width="15.6" height="2.8" rx="1.4" fill="#000" fill-opacity="0.85" filter="url(#bl1)"/>
<rect x="393.5" y="480.4" width="14.8" height="4.8" rx="2" fill="#000" fill-opacity="0.2" filter="url(#bl2)"/>
<rect x="393.5" y="481.4" width="14.8" height="2.8" rx="1.4" fill="#000" fill-opacity="0.7" filter="url(#bl1)"/>
<rect x="326.5" y="472.9" width="86.1" height="3" fill="#fff" fill-opacity="0.45" filter="url(#bl4)"/>
<rect x="326.5" y="489.7" width="86.1" height="3" fill="#fff" fill-opacity="0.3" filter="url(#bl4)"/>
</svg>
<rect x="326.5" y="474.4" width="86.1" height="16.8" fill="none" stroke="#4a4a4a" stroke-width="0.8"/>
<svg x="326.5" y="493.8" width="86.1" height="16.8" viewBox="326.5 493.8 86.1 16.8" overflow="hidden">
<rect x="326.5" y="493.8" width="86.1" height="16.8" fill="#dadada"/>
<rect x="327.9" y="489.8" width="16.9" height="24.8" fill="#b8b8b8" filter="url(#bl3)"/>
<rect x="351" y="489.8" width="15" height="24.8" fill="#b3b3b3" filter="url(#bl3)"/>
<rect x="371.4" y="489.8" width="15.8" height="24.8" fill="#b8b8b8" filter="url(#bl3)"/>
<rect x="393.4" y="489.8" width="15.4" height="24.8" fill="#b3b3b3" filter="url(#bl3)"/>
<rect x="329.4" y="500.5" width="15.2" height="4.8" rx="2" fill="#000" fill-opacity="0.22" filter="url(#bl2)"/>
<rect x="329.4" y="501.5" width="15.2" height="2.8" rx="1.4" fill="#000" fill-opacity="0.78" filter="url(#bl1)"/>
<rect x="351.1" y="500" width="15.6" height="5.8" rx="2" fill="#000" fill-opacity="0.28" filter="url(#bl2)"/>
<rect x="351.1" y="501" width="15.6" height="3.8" rx="1.9" fill="#000" fill-opacity="1.0" filter="url(#bl1)"/>
<rect x="371.4" y="500.5" width="14.8" height="4.8" rx="2" fill="#000" fill-opacity="0.22" filter="url(#bl2)"/>
<rect x="371.4" y="501.5" width="14.8" height="2.8" rx="1.4" fill="#000" fill-opacity="0.78" filter="url(#bl1)"/>
<rect x="393.1" y="500" width="15.6" height="5.8" rx="2" fill="#000" fill-opacity="0.28" filter="url(#bl2)"/>
<rect x="393.1" y="501" width="15.6" height="3.8" rx="1.9" fill="#000" fill-opacity="1.0" filter="url(#bl1)"/>
<rect x="326.5" y="492.3" width="86.1" height="3" fill="#fff" fill-opacity="0.45" filter="url(#bl4)"/>
<rect x="326.5" y="509.1" width="86.1" height="3" fill="#fff" fill-opacity="0.3" filter="url(#bl4)"/>
</svg>
<rect x="326.5" y="493.8" width="86.1" height="16.8" fill="none" stroke="#4a4a4a" stroke-width="0.8"/>
<text x="416.8" y="446.8" font-size="10.8">pTBC1D4 Ser318</text>
<text x="416.8" y="465.8" font-size="10.8">pTBC1D4 Thr642</text>
<text x="416.8" y="487.4" font-size="10.8">TBC1D4</text>
<text x="416.8" y="506.7" font-size="10.8">TBC1D1</text>
<text transform="translate(337.6 521.5) scale(0.86 1)" font-size="10.2" text-anchor="middle">B</text>
<text transform="translate(358.1 521.5) scale(0.86 1)" font-size="10.2" text-anchor="middle">I</text>
<text transform="translate(379.4 521.5) scale(0.86 1)" font-size="10.2" text-anchor="middle">B</text>
<text transform="translate(398.2 521.5) scale(0.86 1)" font-size="10.2" text-anchor="middle">I</text>
<line x1="326.5" y1="524.9" x2="368.6" y2="524.9" stroke="#333" stroke-width="0.9"/>
<line x1="370.2" y1="524.9" x2="412.6" y2="524.9" stroke="#333" stroke-width="0.9"/>
<text transform="translate(343.5 535.9) scale(0.87 1)" font-size="10.4" text-anchor="middle">Lean</text>
<text transform="translate(391.9 535.9) scale(0.895 1)" font-size="10.4" text-anchor="middle">Obese T2D</text>
</g>
</svg>
</body>
</html>
